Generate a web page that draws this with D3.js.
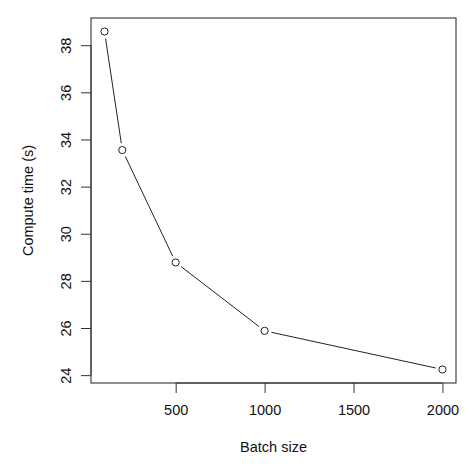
<!DOCTYPE html>
<html>
<head>
<meta charset="utf-8">
<script src="https://cdn.jsdelivr.net/npm/d3@7"></script>
<style>
html,body{margin:0;padding:0;background:#fff;}
svg{display:block;font-family:"Liberation Sans",Arial,Helvetica,sans-serif;}
</style>
</head>
<body>
<svg id="chart" width="474" height="474"></svg>
<script>
const batchSizes = [100, 200, 500, 1000, 2000];
const computeTimes = [38.58, 33.55, 28.78, 25.88, 24.24];
const xTicks = [500, 1000, 1500, 2000];
const yTicks = [24, 26, 28, 30, 32, 34, 36, 38];
const xTitle = "Batch size";
const yTitle = "Compute time (s)";

(function(){
const svg = d3.select("#chart");
const mLeft = 91, mRight = 456, mTop = 18, mBottom = 383;
const fs = 14.5;

function ext(arr){ const [a,b] = d3.extent(arr); const d=(b-a)*0.04; return [a-d,b+d]; }
const x = d3.scaleLinear().domain(ext(batchSizes)).range([mLeft, mRight]);
const y = d3.scaleLinear().domain(ext(computeTimes)).range([mBottom, mTop]);

// box
svg.append("rect").attr("x", mLeft).attr("y", mTop).attr("width", mRight-mLeft).attr("height", mBottom-mTop)
  .attr("fill","none").attr("stroke","#333").attr("stroke-width",1.1);

// x axis
const xAxis = d3.axisBottom(x).tickValues(xTicks).tickFormat(d3.format("d")).tickSize(10).tickPadding(12).tickSizeOuter(0);
const gx = svg.append("g").attr("transform",`translate(0,${mBottom})`).call(xAxis);
gx.select(".domain").attr("d", `M${x(xTicks[0])},0H${x(xTicks[xTicks.length-1])}`).attr("stroke","#333");
gx.selectAll(".tick line").attr("stroke","#333");
gx.selectAll(".tick text").attr("font-size",fs).attr("fill","#111").attr("font-family","Liberation Sans, Arial, sans-serif");

// y axis
const yAxis = d3.axisLeft(y).tickValues(yTicks).tickFormat(d3.format("d")).tickSize(10).tickSizeOuter(0);
const gy = svg.append("g").attr("transform",`translate(${mLeft},0)`).call(yAxis);
gy.select(".domain").attr("d", `M0,${y(yTicks[0])}V${y(yTicks[yTicks.length-1])}`).attr("stroke","#333");
gy.selectAll(".tick line").attr("stroke","#333");
gy.selectAll(".tick text").attr("font-size",fs).attr("fill","#111").attr("font-family","Liberation Sans, Arial, sans-serif")
  .attr("x",null).attr("dy",null).attr("text-anchor","middle")
  .attr("transform","translate(-20.5,0) rotate(-90)");

// titles
svg.append("text").attr("x",(mLeft+mRight)/2).attr("y",452).attr("text-anchor","middle")
  .attr("font-size",fs).attr("fill","#111").text(xTitle);
svg.append("text").attr("transform",`translate(33,${(mTop+mBottom)/2}) rotate(-90)`).attr("text-anchor","middle")
  .attr("font-size",fs).attr("fill","#111").text(yTitle);

// line segments with gaps (type="b")
const pts = batchSizes.map((b,i)=>[x(b), y(computeTimes[i])]);
const gap = 7;
const segs = d3.pairs(pts).map(([p,q])=>{
  const dx=q[0]-p[0], dy=q[1]-p[1], L=Math.hypot(dx,dy);
  const ux=dx/L, uy=dy/L;
  return [p[0]+ux*gap, p[1]+uy*gap, q[0]-ux*gap, q[1]-uy*gap];
});
svg.append("g").selectAll("line").data(segs).join("line")
  .attr("x1",d=>d[0]).attr("y1",d=>d[1]).attr("x2",d=>d[2]).attr("y2",d=>d[3])
  .attr("stroke","#222").attr("stroke-width",1);

svg.append("g").selectAll("circle").data(batchSizes).join("circle")
  .attr("cx",d=>x(d)).attr("cy",(d,i)=>y(computeTimes[i])).attr("r",3.6)
  .attr("fill","none").attr("stroke","#222").attr("stroke-width",1);
})();
</script>
</body>
</html>
